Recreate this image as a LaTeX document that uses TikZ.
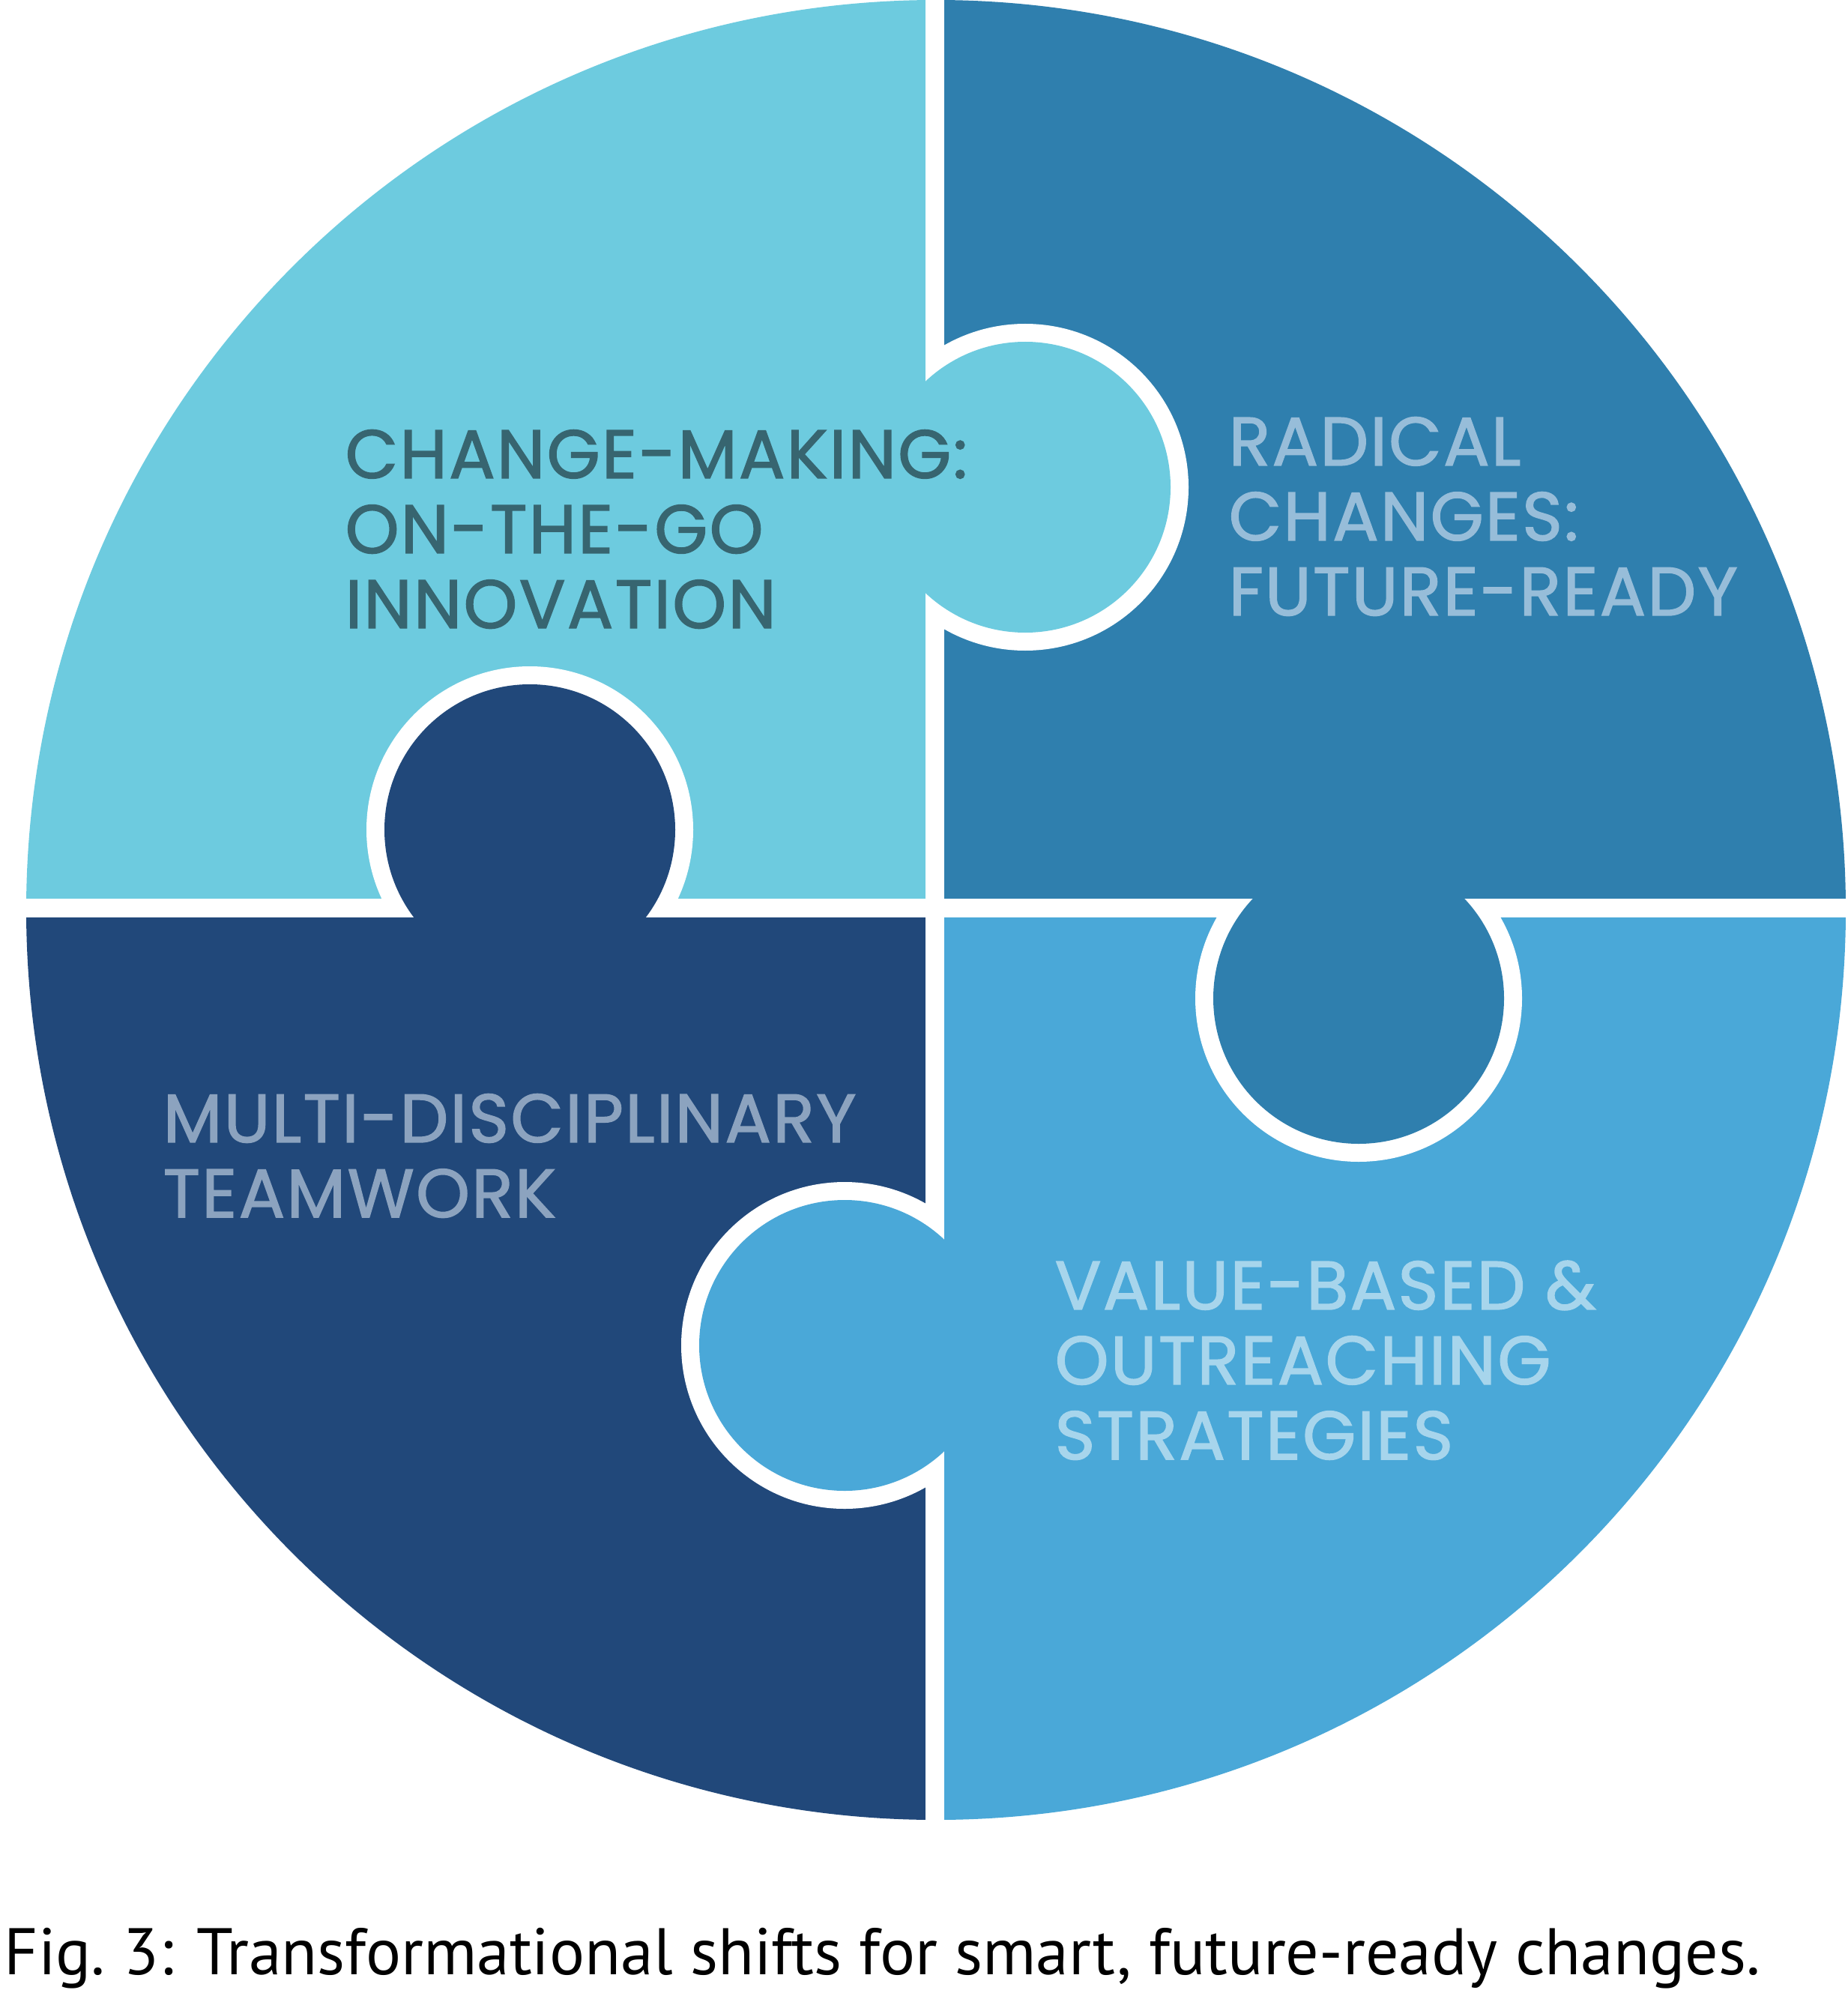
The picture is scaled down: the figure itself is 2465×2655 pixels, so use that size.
\documentclass[tikz,border=0pt]{standalone}
\usepackage{fontspec}
\usepackage{xcolor}
\usepackage{tikz}
\newfontfamily\tilefont{Poppins}[FakeBold=1.6,LetterSpace=2.5]
\newfontfamily\capfont{PT Sans}
\definecolor{tileA}{HTML}{6DCBDF}
\definecolor{tileB}{HTML}{2F7FAE}
\definecolor{tileC}{HTML}{21487A}
\definecolor{tileD}{HTML}{4AA8D8}
\definecolor{textA}{HTML}{376570}
\definecolor{textB}{HTML}{97BDD9}
\definecolor{textC}{HTML}{8CA3BF}
\definecolor{textD}{HTML}{A7D5EC}

\begin{document}
\begin{tikzpicture}[x=0.01cm,y=-0.01cm,
  gap/.style={white,line width=0.25cm},
  label/.style={anchor=base west,inner sep=0pt,align=left,
    font=\tilefont\fontsize{26pt}{28.45pt}\selectfont}]
  \useasboundingbox[fill=white] (0,0) rectangle (2465,2655);
  % the four quarters
  \begin{scope}
    \clip (1249,1214) circle (1214);
    \fill[tileA] (0,0) rectangle (1247,1211);
    \fill[tileB] (1247,0) rectangle (2465,1211);
    \fill[tileC] (0,1211) rectangle (1247,2655);
    \fill[tileD] (1247,1211) rectangle (2465,2655);
  \end{scope}
  \draw[gap] (1247,-10) -- (1247,2440);
  \draw[gap] (20,1211) -- (2470,1211);
  % knobs
  \begin{scope}
    \clip (1247,0) rectangle (2465,1211);
    \fill[white] (1368,650) circle (218);
  \end{scope}
  \fill[tileA] (1368,650) circle (194);
  \begin{scope}
    \clip (0,0) rectangle (1247,1211);
    \fill[white] (707,1107) circle (218);
  \end{scope}
  \fill[tileC] (707,1107) circle (194);
  \begin{scope}
    \clip (1247,1211) rectangle (2465,2655);
    \fill[white] (1813,1332) circle (218);
  \end{scope}
  \fill[tileB] (1813,1332) circle (194);
  \begin{scope}
    \clip (0,1211) rectangle (1247,2655);
    \fill[white] (1127,1795) circle (218);
  \end{scope}
  \fill[tileD] (1127,1795) circle (194);
  % labels (placed at the baseline of the last line)
  \node[label,text=textA] (making) at (460,838) {CHANGE-MAKING:\\ON-THE-GO\\INNOVATION};
  \node[label,text=textB] (radical) at (1639,821) {RADICAL\\CHANGES:\\FUTURE-READY};
  \node[label,text=textC] (team) at (217,1624) {MULTI-DISCIPLINARY\\TEAMWORK};
  \node[label,text=textD] (value) at (1407,1947) {VALUE-BASED \&\\OUTREACHING\\STRATEGIES};
  \node[anchor=base west,inner sep=0pt,font=\capfont\fontsize{25pt}{28pt}\selectfont]
    (caption) at (5,2634) {Fig.\ 3: Transformational shifts for smart, future-ready changes.};
\end{tikzpicture}
\end{document}
